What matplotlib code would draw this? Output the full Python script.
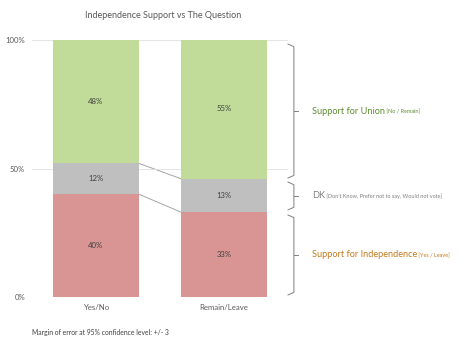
import matplotlib
matplotlib.use('Agg')
import matplotlib.pyplot as plt
from matplotlib.transforms import blended_transform_factory

plt.rcParams['font.family'] = ['Lato', 'DejaVu Sans']

categories = ['Yes/No', 'Remain/Leave']
independence = [40, 33]
dk = [12, 13]
union = [48, 55]

# bracket ranges (bottom, top) in % on the right side
bracket_ranges = [(46.3, 98.4), (33.9, 44.7), (0.8, 31.9)]
bracket_main = ['Support for Union', 'DK', 'Support for Independence']
bracket_sub = [' [No / Remain]', " [Don't Know, Prefer not to say, Would not vote]", ' [Yes / Leave]']
bracket_colors = ['#5b8c2e', '#7f7f7f', '#c47a1e']

col_ind = '#d99594'
col_dk = '#bfbfbf'
col_union = '#c0dc98'

fig = plt.figure(figsize=(4.74, 3.42), dpi=100)
ax = fig.add_axes([32 / 474, 45 / 342, 256 / 474, 257 / 342])

x = [0, 1]
w = 0.67
ax.bar(x, independence, w, color=col_ind, zorder=2)
ax.bar(x, dk, w, bottom=independence, color=col_dk, zorder=2)
dk_top = [a + b for a, b in zip(independence, dk)]
ax.bar(x, union, w, bottom=dk_top, color=col_union, zorder=2)

# connector lines between bars
for tops in (independence, dk_top):
    ax.plot([x[0] + w / 2, x[1] - w / 2], tops, color='#a6a6a6', lw=0.7, zorder=1)

# labels
for i in x:
    ax.text(i, independence[i] / 2, f'{independence[i]}%', ha='center', va='center', fontsize=5.6, color='#404040')
    ax.text(i, independence[i] + dk[i] / 2, f'{dk[i]}%', ha='center', va='center', fontsize=5.6, color='#404040')
    ax.text(i, dk_top[i] + union[i] / 2, f'{union[i]}%', ha='center', va='center', fontsize=5.6, color='#404040')

ax.set_xlim(-0.5, 1.5)
ax.set_ylim(0, 100)
ax.set_yticks([0, 50, 100])
ax.set_yticklabels(['0%', '50%', '100%'])
ax.set_xticks(x)
ax.set_xticklabels(categories)
ax.tick_params(axis='both', length=0, labelsize=5.6, colors='#595959')
ax.tick_params(axis='y', pad=5)
ax.tick_params(axis='x', pad=5)
ax.grid(axis='y', color='#e0e0e0', lw=0.6, zorder=0)
for s in ax.spines.values():
    s.set_visible(False)

fig.text(163 / 474, 1 - 16 / 342, 'Independence Support vs The Question', ha='center', va='center',
         fontsize=6.5, color='#595959')
fig.text(32 / 474, 1 - 333 / 342, 'Margin of error at 95% confidence level: +/- 3', ha='left', va='center',
         fontsize=4.9, color='#404040')

# brackets
tr = blended_transform_factory(ax.transAxes, ax.transData)
x0, x1, x2 = 1.0, 1.023, 1.039
for (lo, hi), main, sub, c in zip(bracket_ranges, bracket_main, bracket_sub, bracket_colors):
    mid = (lo + hi) / 2
    ax.plot([x0, x1, x1, x0], [hi, hi - 1, lo + 1, lo], color='#7f7f7f', lw=0.7,
            transform=tr, clip_on=False)
    ax.plot([x1, x2], [mid, mid], color='#7f7f7f', lw=0.7, transform=tr, clip_on=False)
    t = ax.text(1.094, mid, main, ha='left', va='center', fontsize=6.6, color=c,
                transform=tr, clip_on=False)
    ax.annotate(sub, xy=(1, 0.45), xycoords=t, ha='left', va='center', fontsize=4,
                color=c)

fig.savefig('out.png', dpi=100)
